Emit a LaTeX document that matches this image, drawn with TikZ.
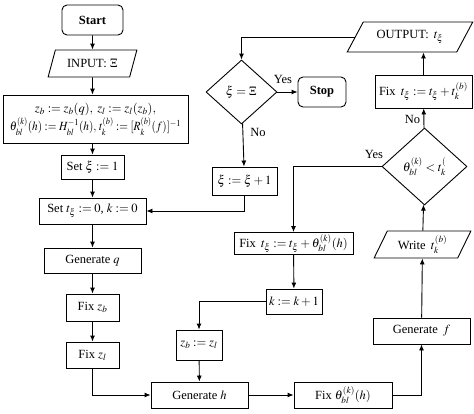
\documentclass[tikz,border=0pt]{standalone}
\usepackage{mathptmx}
\usepackage{graphicx}
\usepackage[no-math]{fontspec}
\setmainfont{Liberation Serif}
\usetikzlibrary{shapes.geometric,arrows.meta,calc}
\tikzset{
  base/.style={draw, line width=0.9pt, inner sep=1pt, align=center, font=\fontsize{12.5}{15}\selectfont},
  box/.style={base, rectangle},
  term/.style={base, rectangle, rounded corners=5pt, font=\fontsize{12.5}{15}\selectfont\bfseries},
  io/.style={base, trapezium, trapezium left angle=#1, trapezium right angle=180-#1, trapezium stretches=true},
  dec/.style={base, diamond, shape aspect=1, inner sep=0pt},
  arr/.style={line width=0.9pt, -{Latex[length=6pt,width=5pt]}},
  lbl/.style={font=\fontsize{12.5}{14}\selectfont}
}
\begin{document}
\begin{tikzpicture}[x=1pt,y=-1pt]
\useasboundingbox (0,0) rectangle (474,413);
% left column
\node[term, minimum width=61pt, minimum height=30pt] (start) at (92.5,20) {Start};
\node[io=64, minimum width=89pt, minimum height=27pt] (input) at (92.5,63.5) {INPUT: $\Xi$};
\node[box, minimum width=185pt, minimum height=48pt] (big) at (95.5,119)
  {$z_b := z_b(q),\; z_l := z_l(z_b),$\\[1pt]
   \scalebox{0.9}[1]{$\theta_{bl}^{(k)}(h) := H_{bl}^{-1}(h),\, t_k^{(b)} := [R_k^{(b)}(f)]^{-1}$}};
\node[box, minimum width=63pt, minimum height=24pt] (setxi) at (92.5,167) {Set $\xi := 1$};
\node[box, minimum width=107pt, minimum height=26pt] (sett) at (92.5,211) {Set $t_\xi := 0$, $k := 0$};
\node[box, minimum width=97pt, minimum height=25pt] (genq) at (92.5,260.5) {Generate $q$};
\node[box, minimum width=53pt, minimum height=27pt] (fixzb) at (92.5,307.5) {Fix $z_b$};
\node[box, minimum width=53pt, minimum height=26pt] (fixzl) at (92.5,355) {Fix $z_l$};
% middle
\node[box, minimum width=46pt, minimum height=30pt] (zbzl) at (199,345) {$z_b := z_l$};
\node[box, minimum width=97pt, minimum height=26pt] (genh) at (199.5,395) {Generate $h$};
\node[box, minimum width=98pt, minimum height=26pt] (fixth) at (343,395) {Fix $\theta_{bl}^{(k)}(h)$};
\node[dec, minimum width=71pt, minimum height=64pt] (dxi) at (241.5,92) {$\xi = \Xi$};
\node[term, minimum width=48pt, minimum height=30pt] (stop) at (322,92) {Stop};
\node[box, minimum width=65pt, minimum height=28pt] (xiinc) at (244.5,181) {$\xi := \xi + 1$};
\node[box, minimum width=119pt, minimum height=22pt] (fixt1) at (293.5,243.5) {Fix\, $t_\xi := t_\xi + \theta_{bl}^{(k)}(h)$};
\node[box, minimum width=56pt, minimum height=25pt] (kinc) at (294,301.5) {$k := k + 1$};
% right column
\node[box, minimum width=97pt, minimum height=26pt] (genf) at (421.5,331) {Generate\, $f$};
\node[io=64, minimum width=97pt, minimum height=27pt] (write) at (422.5,244.5) {Write\, $t_k^{(b)}$};
\node[dec, minimum width=85pt, minimum height=77pt] (dth) at (424.5,166.5) {$\theta_{bl}^{(k)} < t_k^{(}$};
\node[box, minimum width=97pt, minimum height=33pt] (fixt2) at (423.5,91.5) {Fix\, $t_\xi := t_\xi + t_k^{(b)}$};
\node[io=52, minimum width=126pt, minimum height=30pt] (output) at (410,37) {OUTPUT:\, $t_\xi$};
% connectors
\draw[arr] (start) -- (input);
\draw[arr] (input) -- (big.north -| input);
\draw[arr] (big.south -| setxi) -- (setxi);
\draw[arr] (setxi) -- (sett);
\draw[arr] (sett) -- (genq);
\draw[arr] (genq) -- (fixzb);
\draw[arr] (fixzb) -- (fixzl);
\draw[arr] (fixzl.south) |- (genh.west);
\draw[arr] (zbzl) -- (genh);
\draw[arr] (genh) -- (fixth);
\draw[arr] (fixth.east) -| (genf.south);
\draw[arr] (genf) -- (write);
\draw[arr] (write) -- (dth);
\draw[arr] (dth) -- node[lbl, left, pos=0.45] {No} (fixt2);
\draw[arr] (fixt2) -- (output.south -| fixt2);
\draw[arr] (output.west) -| (dxi.north);
\draw[arr] (dxi) -- (stop);
\node[lbl] (yes1) at (283,79) {Yes};
\draw[arr] (dxi) -- (xiinc);
\node[lbl] (no1) at (258,132) {No};
\draw[arr] (xiinc.south) |- (sett.east);
\draw[arr] (dth.west) -| (fixt1.north);
\node[lbl] (yes2) at (374,154) {Yes};
\draw[arr] (fixt1) -- (kinc);
\draw[arr] (kinc.west) -| (zbzl.north);
\end{tikzpicture}
\end{document}
